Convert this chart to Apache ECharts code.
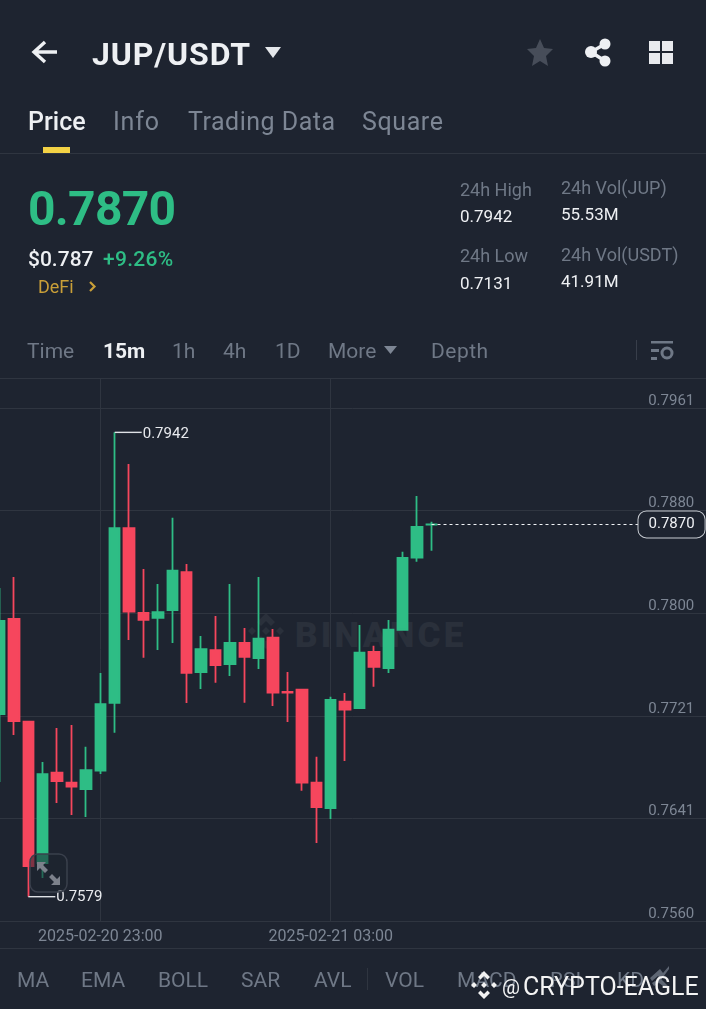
<!DOCTYPE html>
<html>
<head>
<meta charset="utf-8">
<title>JUP/USDT</title>
<script src="https://cdn.jsdelivr.net/npm/echarts@6/dist/echarts.min.js"></script>
<style>
    html, body { margin: 0; padding: 0; width: 706px; height: 1009px; overflow: hidden; background: #1e2430; font-family: Roboto, sans-serif; }
    /* starts left of the page so that the first candle is cut in half */
    #chart-box { position: absolute; left: -8px; top: 0; width: 722px; height: 1009px; z-index: 2; }
    #back, #front { position: absolute; left: 0; top: 0; width: 706px; height: 1009px; overflow: hidden; }
    #back { z-index: 1; }
    #front { z-index: 3; pointer-events: none; }
    .t { position: absolute; white-space: nowrap; transform: translateY(-50%); line-height: 1; }
    .hr { position: absolute; left: 0; width: 706px; height: 1px; background: #2f3540; }
    .gray { color: #7d8694; }
    .dim { color: #6f7886; }
    .white { color: #eef0f3; }
    svg { position: absolute; left: 0; top: 0; }
</style>
</head>
<body>
<div id="back">
    <div class="t" style="left:295px;top:635px;font-size:35px;font-weight:900;letter-spacing:3.2px;color:#2a303b;">BINANCE</div>
    <svg width="706" height="1009"><path d="M266 613l9 9-4 4-5-5-5 5-4-4zM248 631l4-4 4 4-4 4zM284 631l-4-4-4 4 4 4zM266 627l4 4-4 4-4-4zM266 649l9-9-4-4-5 5-5-5-4 4z" fill="#2a303b"/></svg>
</div>
<div id="chart-box"></div>
<div id="front">
    <svg width="706" height="1009">
        <path d="M57 52H35M45 42L34 52l11 10" fill="none" stroke="#eef0f3" stroke-width="3.4"/>
        <path d="M265 47h16l-8 11z" fill="#e4e7ea"/>
        <path d="M540 39l4 9 9 1-7 7 2 10-8-5-8 5 2-10-7-7 9-1z" fill="#474d59"/>
        <g fill="#eef0f3"><circle cx="605" cy="44" r="5.5"/><circle cx="605" cy="61" r="5.5"/><circle cx="591" cy="52" r="6"/></g>
        <path d="M605 44L591 52l14 9" fill="none" stroke="#eef0f3" stroke-width="3.4"/>
        <g fill="#e8eaee"><rect x="649" y="41" width="11" height="10"/><rect x="662" y="41" width="11" height="10"/><rect x="649" y="53" width="11" height="11"/><rect x="662" y="53" width="11" height="11"/></g>
        <rect x="43" y="147" width="27" height="6" fill="#f3d245"/>
        <path d="M90 282l4.500 4.500-4.500 4.500" fill="none" stroke="#c99f38" stroke-width="2.200"/>
        <path d="M384 346h13l-6.500 8z" fill="#7d8694"/>
        <rect x="636" y="340" width="1" height="20" fill="#383e4a"/>
        <g fill="#6f7886"><rect x="651" y="341" width="22" height="2.500"/><rect x="651" y="349" width="8" height="3"/><rect x="651" y="357" width="6" height="3"/></g>
        <circle cx="667" cy="353" r="5" fill="none" stroke="#6f7886" stroke-width="3"/>
        <rect x="367" y="968" width="1" height="22" fill="#2f3540"/>
        <rect x="30" y="854" width="37" height="38" rx="8" fill="rgba(30,36,48,0.55)" stroke="#3a404c" stroke-width="1.500"/>
        <path d="M37 862h9l-3 3 5 5-3 3-5-5-3 3zM60 885h-9l3-3-5-5 3-3 5 5 3-3z" fill="#7c818b"/>
        <path d="M650 978l10-9 3 4 6-7v3l-8 11-3-4-6 5zM652 983l8-5 8 8h-5l-4-3-5 3z" fill="#5e6673"/>
    </svg>
    <div class="t white" style="left:92px;top:54px;font-size:32px;font-weight:700;letter-spacing:0.9px;">JUP/USDT</div>
    <div class="t white" style="left:28px;top:121px;font-size:25px;font-weight:500;">Price</div>
    <div class="t gray" style="left:113px;top:121px;font-size:25px;letter-spacing:0.8px;">Info</div>
    <div class="t gray" style="left:188px;top:121px;font-size:25px;letter-spacing:0.5px;">Trading Data</div>
    <div class="t gray" style="left:362px;top:121px;font-size:25px;letter-spacing:0.6px;">Square</div>
    <div class="hr" style="top:153px;"></div>

    <div class="t" style="left:28px;top:209px;font-size:48px;font-weight:700;letter-spacing:-0.7px;color:#2ebd85;">0.7870</div>
    <div class="t white" style="left:28px;top:259px;font-size:21px;font-weight:500;">$0.787</div>
    <div class="t" style="left:103px;top:259px;font-size:21px;font-weight:500;letter-spacing:0.3px;color:#2ebd85;">+9.26%</div>
    <div class="t" style="left:38px;top:287px;font-size:18px;color:#c99f38;">DeFi</div>

    <div class="t dim" style="left:460px;top:190px;font-size:18px;">24h High</div>
    <div class="t white" style="left:460px;top:216px;font-size:17px;">0.7942</div>
    <div class="t dim" style="left:460px;top:256px;font-size:18px;">24h Low</div>
    <div class="t white" style="left:460px;top:283px;font-size:17px;">0.7131</div>
    <div class="t dim" style="left:561px;top:188px;font-size:18px;">24h Vol(JUP)</div>
    <div class="t white" style="left:561px;top:214px;font-size:17px;">55.53M</div>
    <div class="t dim" style="left:561px;top:255px;font-size:18px;">24h Vol(USDT)</div>
    <div class="t white" style="left:561px;top:281px;font-size:17px;">41.91M</div>

    <div class="t dim" style="left:27px;top:351px;font-size:21px;">Time</div>
    <div class="t white" style="left:103px;top:351px;font-size:21px;font-weight:700;">15m</div>
    <div class="t dim" style="left:172px;top:351px;font-size:21px;">1h</div>
    <div class="t dim" style="left:223px;top:351px;font-size:21px;">4h</div>
    <div class="t dim" style="left:275px;top:351px;font-size:21px;">1D</div>
    <div class="t dim" style="left:328px;top:351px;font-size:21px;">More</div>
    <div class="t dim" style="left:431px;top:351px;font-size:21px;letter-spacing:0.5px;">Depth</div>
    <div class="hr" style="top:378px;"></div>

    <div class="hr" style="top:948px;"></div>
    <div class="t dim" style="left:17px;top:980px;font-size:21px;">MA</div>
    <div class="t dim" style="left:81px;top:980px;font-size:21px;">EMA</div>
    <div class="t dim" style="left:158px;top:980px;font-size:21px;">BOLL</div>
    <div class="t dim" style="left:241px;top:980px;font-size:21px;">SAR</div>
    <div class="t dim" style="left:314px;top:980px;font-size:21px;">AVL</div>
    <div class="t dim" style="left:385px;top:980px;font-size:21px;">VOL</div>
    <div class="t dim" style="left:457px;top:980px;font-size:21px;">MACD</div>
    <div class="t dim" style="left:550px;top:980px;font-size:21px;">RSI</div>
    <div class="t dim" style="left:617px;top:980px;font-size:21px;">KD</div>

    <svg width="706" height="1009"><path d="M484 971l6 6-2.500 2.500-3.500-3.500-3.500 3.500L478 977zM471 985l3-3 3 3-3 3zM497 985l-3-3-3 3 3 3zM484 982l3 3-3 3-3-3zM484 999l6-6-2.500-2.500-3.500 3.500-3.500-3.500L478 993z" fill="#f2f2f2"/></svg>
    <div class="t" style="left:502px;top:987px;font-size:20px;color:#f4f4f4;">@</div>
    <div class="t" style="left:523px;top:986px;font-size:25px;color:#f4f4f4;">CRYPTO-EAGLE</div>
</div>

<script>
// 15m candles
const times = [
    '2025-02-20 21:15', '2025-02-20 21:30', '2025-02-20 21:45', '2025-02-20 22:00',
    '2025-02-20 22:15', '2025-02-20 22:30', '2025-02-20 22:45', '2025-02-20 23:00',
    '2025-02-20 23:15', '2025-02-20 23:30', '2025-02-20 23:45', '2025-02-21 00:00',
    '2025-02-21 00:15', '2025-02-21 00:30', '2025-02-21 00:45', '2025-02-21 01:00',
    '2025-02-21 01:15', '2025-02-21 01:30', '2025-02-21 01:45', '2025-02-21 02:00',
    '2025-02-21 02:15', '2025-02-21 02:30', '2025-02-21 02:45', '2025-02-21 03:00',
    '2025-02-21 03:15', '2025-02-21 03:30', '2025-02-21 03:45', '2025-02-21 04:00',
    '2025-02-21 04:15', '2025-02-21 04:30', '2025-02-21 04:45'
];
const opens = [0.77218, 0.77961, 0.77158, 0.76053, 0.76759, 0.76681, 0.76632, 0.76775, 0.77306, 0.78672, 0.78008, 0.77969, 0.78031, 0.78328, 0.77546, 0.77718, 0.77609, 0.77775, 0.77656, 0.77815, 0.77392, 0.77408, 0.76681, 0.76483, 0.77314, 0.77265, 0.77703, 0.77578, 0.77877, 0.7844, 0.78698];
const closes = [0.77947, 0.77163, 0.7603, 0.76749, 0.76694, 0.7665, 0.7678, 0.77296, 0.78672, 0.78018, 0.77955, 0.78015, 0.78338, 0.77539, 0.77726, 0.77601, 0.77775, 0.77666, 0.77807, 0.77385, 0.77385, 0.76681, 0.76491, 0.77328, 0.77252, 0.77697, 0.77586, 0.77877, 0.78438, 0.7868, 0.787];
const lows = [0.76687, 0.77054, 0.7579, 0.75936, 0.76522, 0.76429, 0.76413, 0.76749, 0.77072, 0.77797, 0.77658, 0.77718, 0.77773, 0.77304, 0.77414, 0.77463, 0.77515, 0.77306, 0.7757, 0.77281, 0.77156, 0.76619, 0.7621, 0.76397, 0.76851, 0.77265, 0.77432, 0.77539, 0.77877, 0.78409, 0.78495];
const highs = [0.78203, 0.78289, 0.77163, 0.76843, 0.77109, 0.77132, 0.76963, 0.77539, 0.7942, 0.79172, 0.78352, 0.78234, 0.78753, 0.78391, 0.77828, 0.77984, 0.78234, 0.7789, 0.78289, 0.77883, 0.77546, 0.77414, 0.76884, 0.77353, 0.77382, 0.77914, 0.77752, 0.77953, 0.78487, 0.78922, 0.78721];

const yTickValues = [0.756, 0.76402, 0.77204, 0.78006, 0.78808, 0.7961];
const yTickLabels = ['0.7560', '0.7641', '0.7721', '0.7800', '0.7880', '0.7961'];
const timeLabels = ['2025-02-20 23:00', '2025-02-21 03:00'];
const highIndex = 8, highPrice = 0.7942;
const lowIndex = 2, lowPrice = 0.7579;
const lastPrice = 0.787;

const greenColor = '#2ebd85';
const redColor = '#f6465d';
const gridColor = '#2f3540';
const bgColor = '#1e2430';

drawKline();

function drawKline() {
    var chartDom = document.getElementById('chart-box');
    var myChart = echarts.init(chartDom);
    var option;

    // empty room to the right of the last candle
    const categories = times.slice();
    while (categories.length < 50) categories.push('');

    const candles = opens.map((o, i) => [o, closes[i], lows[i], highs[i]]);
    const isTimeTick = (i) => timeLabels.includes(categories[i]);

    option = {
        animation: false,
        grid: { left: 0.3, top: 378, width: 720, height: 543 },
        xAxis: {
            type: 'category',
            data: categories,
            axisLine: { show: false },
            axisTick: { show: false },
            axisLabel: {
                interval: (i) => isTimeTick(i),
                color: '#7d8694',
                fontFamily: 'Roboto',
                fontSize: 16,
                margin: 8,
                hideOverlap: false
            },
            splitLine: {
                show: true,
                alignWithLabel: true,
                interval: (i) => isTimeTick(i),
                lineStyle: { color: gridColor, width: 1 }
            }
        },
        yAxis: {
            type: 'value',
            position: 'right',
            min: 0.756,
            max: 0.79845,
            axisLine: { show: false },
            axisTick: { show: false, customValues: yTickValues },
            axisLabel: {
                inside: true,
                customValues: yTickValues,
                formatter: (v) => yTickLabels[yTickValues.indexOf(v)],
                verticalAlign: 'bottom',
                color: '#7d8694',
                fontFamily: 'Roboto',
                fontSize: 15,
                lineHeight: 14,
                margin: 18
            },
            splitLine: { show: true, lineStyle: { color: gridColor, width: 1 } }
        },
        series: [
            {
                type: 'candlestick',
                data: candles,
                barWidth: 11,
                itemStyle: {
                    color: greenColor,
                    color0: redColor,
                    borderColor: greenColor,
                    borderColor0: redColor,
                    borderWidth: 1.8
                },
                markLine: {
                    silent: true,
                    symbol: 'none',
                    label: { show: false },
                    data: [
                        [
                            { coord: [30, lastPrice], lineStyle: { color: '#f0f2f5', type: [3, 3], width: 1.2 } },
                            { coord: [49, lastPrice] }
                        ]
                    ]
                },
                markPoint: {
                    silent: true,
                    z: 8,
                    data: [
                        {
                            coord: [highIndex, highPrice],
                            symbol: 'rect',
                            symbolSize: [27, 1.4],
                            symbolOffset: [13.5, 0],
                            itemStyle: { color: '#dfe2e6' },
                            label: { show: true, position: 'right', distance: 1, offset: [0, 1.5], formatter: highPrice.toFixed(4), color: '#e8eaee', fontFamily: 'Roboto', fontSize: 15 }
                        },
                        {
                            coord: [lowIndex, lowPrice],
                            symbol: 'rect',
                            symbolSize: [27, 1.4],
                            symbolOffset: [13.5, 0],
                            itemStyle: { color: '#dfe2e6' },
                            label: { show: true, position: 'right', distance: 1, offset: [0, 1], formatter: lowPrice.toFixed(4), color: '#e8eaee', fontFamily: 'Roboto', fontSize: 15 }
                        },
                        {
                            coord: [49, lastPrice],
                            symbol: 'rect',
                            symbolSize: 1,
                            itemStyle: { color: 'rgba(0,0,0,0)' },
                            label: {
                                show: true,
                                position: 'left',
                                distance: 0,
                                formatter: lastPrice.toFixed(4),
                                color: '#f0f2f5',
                                fontFamily: 'Roboto',
                                fontSize: 15,
                                backgroundColor: bgColor,
                                borderColor: '#c8ccd2',
                                borderWidth: 1,
                                borderRadius: 8,
                                padding: [6, 10, 5, 10]
                            }
                        }
                    ]
                }
            }
        ]
    };

    option && myChart.setOption(option);
}
</script>
</body>
</html>
